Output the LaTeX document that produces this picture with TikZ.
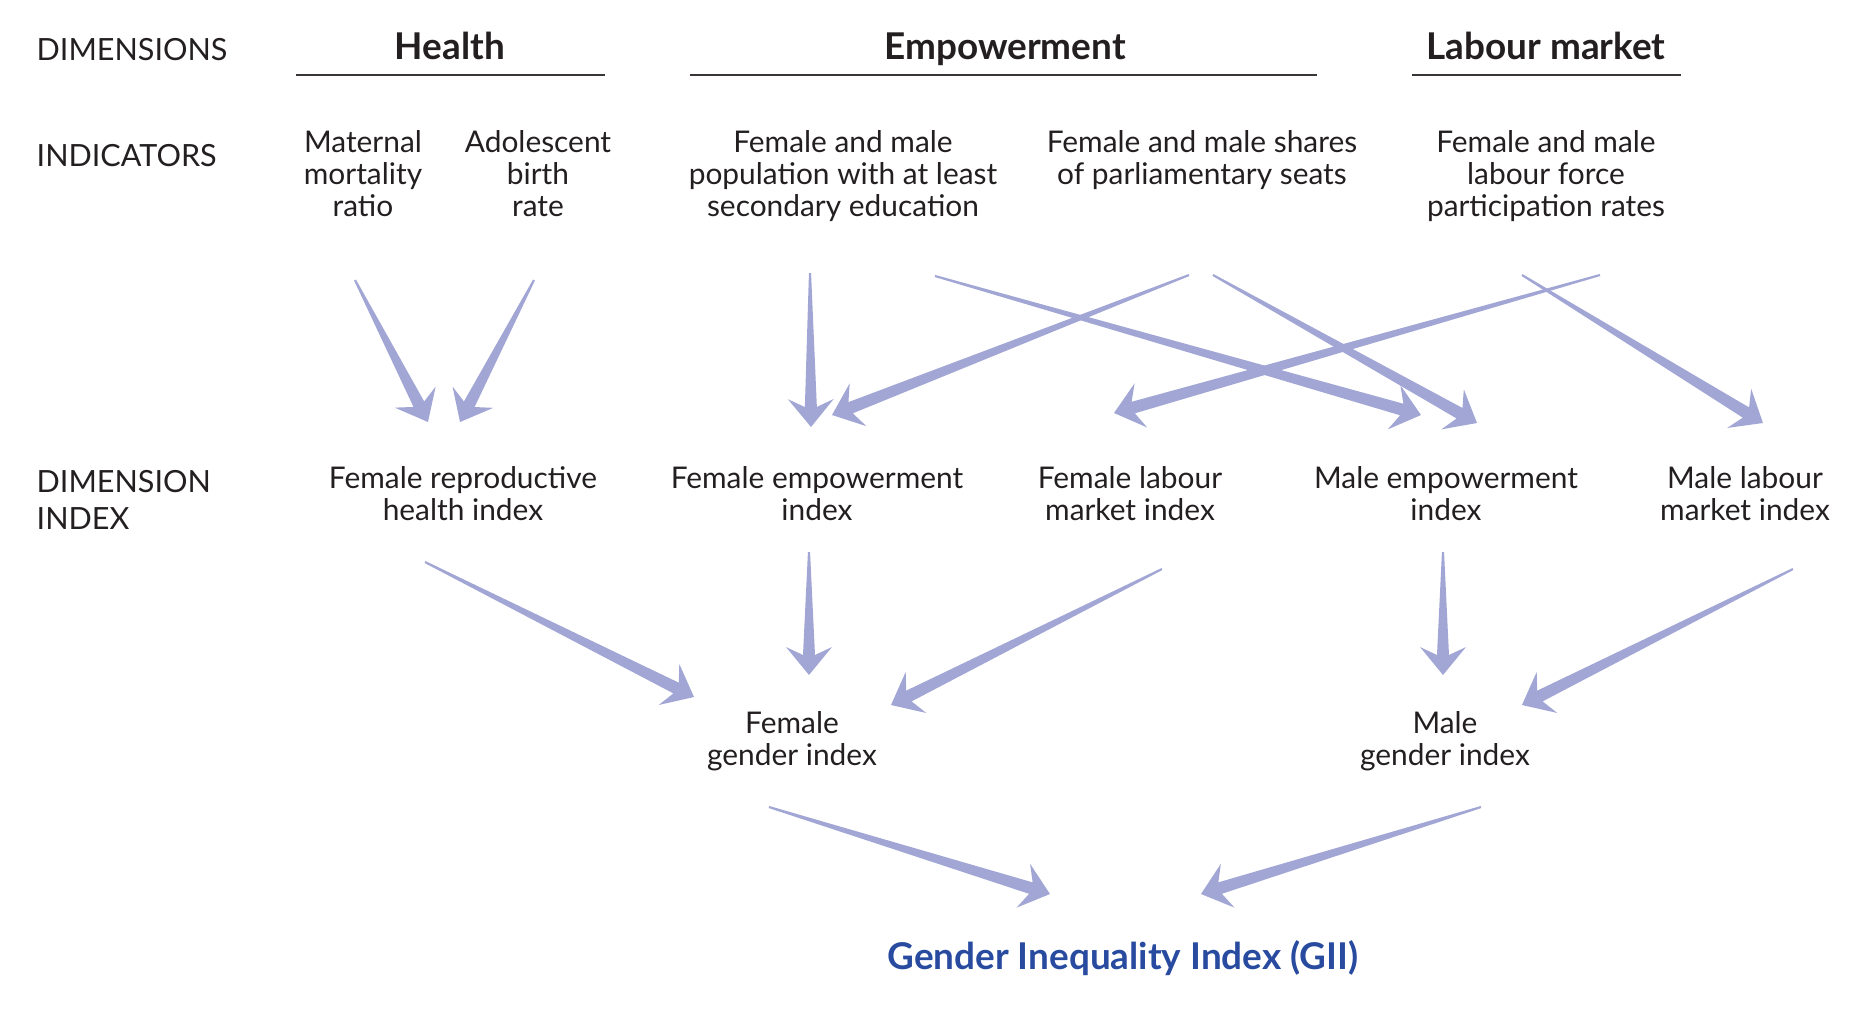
\documentclass[tikz,border=0pt]{standalone}
\usepackage{fontspec}
\setmainfont{Lato}
\usetikzlibrary{calc}

\definecolor{arrowlav}{HTML}{A1A6D4}
\definecolor{giiblue}{HTML}{284BA0}
\definecolor{inkgrey}{HTML}{231F20}

% tapered arrow: thin at the start, stealth head at the tip
\newcommand{\garrow}[2]{%
  \fill[arrowlav] ($(#1)!0.3pt!90:(#2)$) -- ($(#2)!2.09mm!-16.7:(#1)$)
    -- ($(#2)!3.62mm!-39.4:(#1)$) -- (#2) -- ($(#2)!3.62mm!39.4:(#1)$)
    -- ($(#2)!2.09mm!16.7:(#1)$) -- ($(#1)!0.3pt!-90:(#2)$) -- cycle;}

\begin{document}
\begin{tikzpicture}[x=0.1mm,y=-0.1mm,
    every node/.style={inner sep=0pt,text=inkgrey},
    rowlabel/.style={anchor=base west,align=left,font=\fontsize{8.7}{10.5}\selectfont},
    dimhead/.style={anchor=base,font=\fontsize{10.5}{12}\selectfont\bfseries},
    item/.style={anchor=base,align=center,font=\fontsize{8.5}{9.1}\selectfont},
    headrule/.style={draw=inkgrey!90,line width=0.6pt}]
\useasboundingbox (0,0) rectangle (1850,1014);

% row labels (base = last line)
\node[rowlabel] (rdim) at (36,60) {DIMENSIONS};
\node[rowlabel] (rind) at (36,166) {INDICATORS};
\node[rowlabel] (rdix) at (36,529) {DIMENSION\\INDEX};

% dimensions
\node[dimhead] (health) at (450,59) {Health};
\node[dimhead] (empow) at (1005,59) {Empowerment};
\node[dimhead] (labour) at (1546,59) {Labour market};
\draw[headrule] (296,75) -- (605,75);
\draw[headrule] (690,75) -- (1317,75);
\draw[headrule] (1412,75) -- (1681,75);

% indicators
\node[item] (mmr) at (363,216) {Maternal\\mortality\\ratio};
\node[item] (abr) at (538,216) {Adolescent\\birth\\rate};
\node[item] (edu) at (843,216) {Female and male\\population with at least\\secondary education};
\node[item] (parl) at (1202,184) {Female and male shares\\of parliamentary seats};
\node[item] (lfpr) at (1546,216) {Female and male\\labour force\\participation rates};

% dimension indices
\node[item] (rhi) at (463,520) {Female reproductive\\health index};
\node[item] (fei) at (817,520) {Female empowerment\\index};
\node[item] (fli) at (1130,520) {Female labour\\market index};
\node[item] (mei) at (1446,520) {Male empowerment\\index};
\node[item] (mli) at (1745,520) {Male labour\\market index};

% gender indices
\node[item] (fgi) at (792,765) {Female\\gender index};
\node[item] (mgi) at (1445,765) {Male\\gender index};

\node[dimhead,font=\fontsize{10.5}{12}\selectfont\bfseries,text=giiblue] (gii) at (1123,969) {Gender Inequality Index (GII)};

% connectors
\foreach \nm/\sx/\sy/\tx/\ty in {
    mmr-rhi/355/280/428/422, abr-rhi/534/280/460/422,
    edu-fei/810/273/811/427, parl-fei/1189/275/832/415,
    edu-mei/935/276/1421/415, parl-mei/1213/275/1477/423,
    lfpr-fli/1600/275/1114/413, lfpr-mli/1522/275/1763/423,
    rhi-fgi/425/562/694/697, fei-fgi/809/552/809/675,
    fli-fgi/1162/569/891/705, mei-mgi/1443/552/1443/675,
    mli-mgi/1793/569/1522/705,
    fgi-gii/769/807/1050/894, mgi-gii/1481/807/1201/894}
{
  \coordinate (\nm-s) at (\sx,\sy);
  \coordinate (\nm-t) at (\tx,\ty);
  \garrow{\nm-s}{\nm-t}
}
\end{tikzpicture}
\end{document}
